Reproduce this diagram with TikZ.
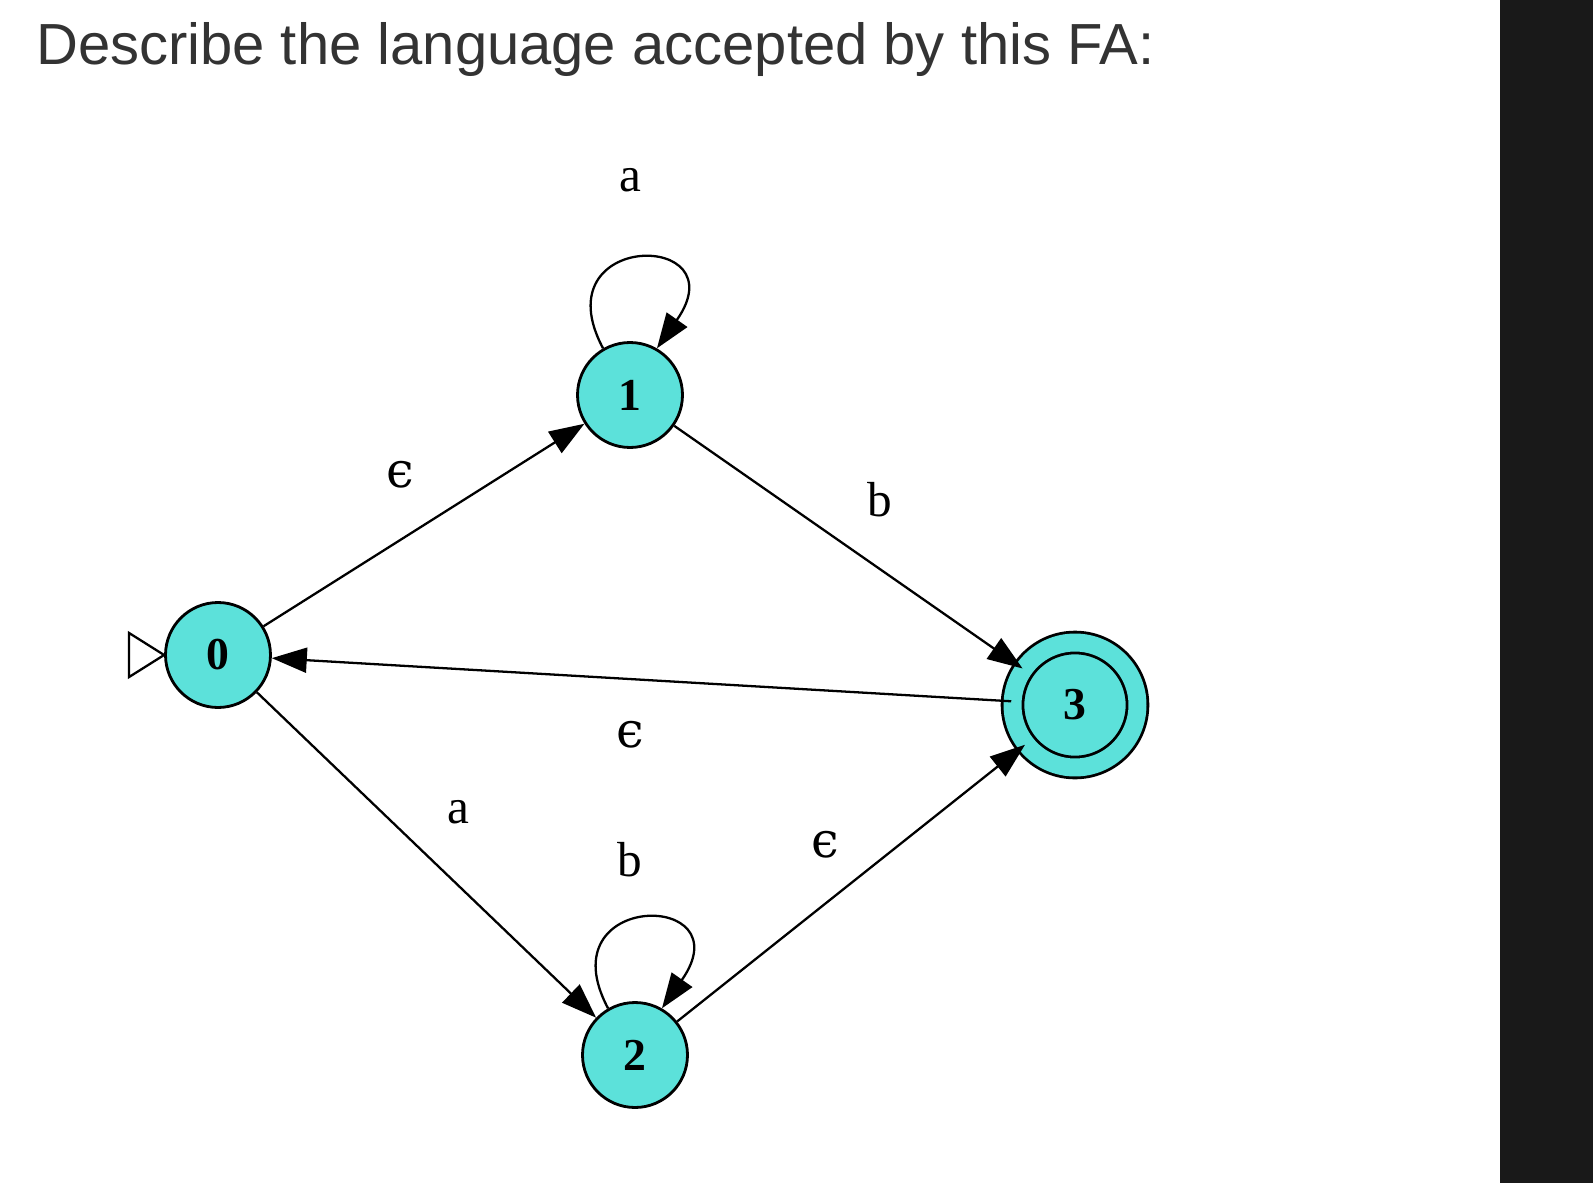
\documentclass[tikz,border=0pt]{standalone}
\usepackage{fontspec}
\setmainfont{Liberation Serif}
\newfontfamily\titlefont{Liberation Sans}
\newfontfamily\epsfont{DejaVu Serif}
\usetikzlibrary{arrows.meta}
\definecolor{stfill}{HTML}{5CE1DA}
\tikzset{
 st/.style={circle,draw,line width=1.6pt,fill=stfill,minimum size=2.1cm,inner sep=0pt,font=\fontsize{26}{28}\selectfont\bfseries},
 acc/.style={st,double=stfill,double distance=0.36cm,minimum size=2.5cm},
 ed/.style={line width=1.3pt,-{Triangle[length=0.7cm,width=0.5cm]}},
 lb/.style={font=\fontsize{28}{30}\selectfont}
}
\newcommand{\eps}{{\epsfont ϵ}}
\begin{document}
\begin{tikzpicture}[x=0.02cm,y=-0.02cm]
\useasboundingbox (0,0) rectangle (1593,1183);
\fill[white] (0,0) rectangle (1593,1183);
\fill[black!90] (1500,0) rectangle (1593,1183);
\node[anchor=west,font=\titlefont\fontsize{33}{38}\selectfont,text=black!80] (title) at (30,50) {Describe the language accepted by this FA:};
\node[st] (s0) at (218,655) {0};
\node[st] (s1) at (630,395) {1};
\node[st] (s2) at (635,1055) {2};
\node[acc] (s3) at (1075,705) {3};
\draw[line width=1.3pt,fill=white] (s0.west) -- ++(-35,-22) -- ++(0,44) -- cycle;
\draw[ed] (s0) -- (s1);
\draw[ed] (s1) -- (s3);
\draw[ed] (s3) -- (s0);
\draw[ed] (s0) -- (s2);
\draw[ed] (s2) -- (s3);
\draw[ed] (s1.120) .. controls (540,230) and (740,230) .. (s1.60);
\draw[ed] (s2.120) .. controls (545,890) and (745,890) .. (s2.60);
\node[lb] (la1) at (630,180) {a};
\node[lb] (le1) at (400,475) {\eps};
\node[lb] (lb1) at (880,500) {b};
\node[lb] (le2) at (630,735) {\eps};
\node[lb] (la2) at (458,812) {a};
\node[lb] (lb2) at (630,860) {b};
\node[lb] (le3) at (825,845) {\eps};
\end{tikzpicture}
\end{document}
